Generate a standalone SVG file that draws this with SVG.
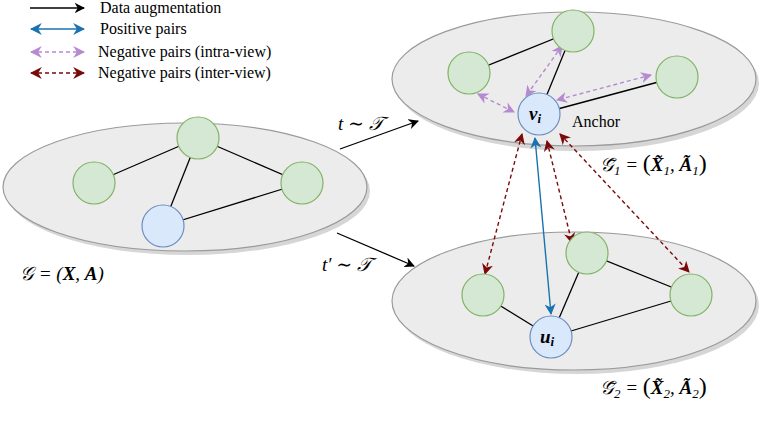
<svg xmlns="http://www.w3.org/2000/svg" width="759" height="422" viewBox="0 0 759 422">
<style>
.ell{fill:#ececec;stroke:#9a9a9a;stroke-width:1.2}
.sh{fill:#d6d6d6}
.g{fill:#d5e8d4;stroke:#82b366;stroke-width:1.2}
.b{fill:#dae8fc;stroke:#6c8ebf;stroke-width:1.2}
.e{stroke:#000;stroke-width:1.3}
text{font-family:'Liberation Serif','DejaVu Serif',serif}
.t{font-size:16px;fill:#000}
.m{font-style:italic;font-size:19px;fill:#000}
.mb{font-style:italic;font-weight:bold;font-size:19px}
</style>
<defs>
<marker id="ak" viewBox="0 0 10 10" refX="9" refY="5" markerWidth="8" markerHeight="8" orient="auto-start-reverse"><path d="M0,0L10,5L0,10L3,5z" fill="#000"/></marker>
<marker id="ab" viewBox="0 0 10 10" refX="9" refY="5" markerWidth="8" markerHeight="8" orient="auto-start-reverse"><path d="M0,0L10,5L0,10L3,5z" fill="#1a73b0"/></marker>
<marker id="ap" viewBox="0 0 10 10" refX="9" refY="5" markerWidth="8" markerHeight="8" orient="auto-start-reverse"><path d="M0,0L10,5L0,10L3,5z" fill="#b58ad0"/></marker>
<marker id="ar" viewBox="0 0 10 10" refX="9" refY="5" markerWidth="8" markerHeight="8" orient="auto-start-reverse"><path d="M0,0L10,5L0,10L3,5z" fill="#7a0a0a"/></marker>
</defs>
<rect width="759" height="422" fill="#fff"/>
<g id="legend">
<line x1="30" y1="8" x2="84" y2="8" class="e" marker-end="url(#ak)"/>
<line x1="31" y1="29" x2="84" y2="29" stroke="#1a73b0" stroke-width="1.5" marker-start="url(#ab)" marker-end="url(#ab)"/>
<line x1="31" y1="52" x2="84" y2="52" stroke="#b58ad0" stroke-width="1.5" stroke-dasharray="4,3" marker-start="url(#ap)" marker-end="url(#ap)"/>
<line x1="31" y1="73" x2="84" y2="73" stroke="#7a0a0a" stroke-width="1.5" stroke-dasharray="4,3" marker-start="url(#ar)" marker-end="url(#ar)"/>
<text class="t" x="100" y="13">Data augmentation</text>
<text class="t" x="100" y="34">Positive pairs</text>
<text class="t" x="98" y="57">Negative pairs (intra-view)</text>
<text class="t" x="98" y="78">Negative pairs (inter-view)</text>
</g>
<g id="graph0">
<ellipse class="sh" cx="188" cy="191" rx="182" ry="64"/>
<ellipse class="ell" cx="185" cy="187" rx="182" ry="64"/>
<text class="m" x="20" y="280">𝒢 = (<tspan class="mb">X</tspan>, <tspan class="mb">A</tspan>)</text>
</g>
<g id="view1">
<ellipse class="sh" cx="577" cy="83" rx="182" ry="68"/>
<ellipse class="ell" cx="574" cy="79" rx="182" ry="67"/>
<text class="m" x="600" y="171">𝒢̃<tspan font-size="13" dy="4">1</tspan><tspan dy="-4"> = </tspan><tspan font-style="normal" font-size="24">(</tspan><tspan class="mb">X̃</tspan><tspan font-size="13" dy="4">1</tspan><tspan dy="-4">, </tspan><tspan class="mb">Ã</tspan><tspan font-size="13" dy="4">1</tspan><tspan dy="-4" font-style="normal" font-size="24">)</tspan></text>
</g>
<g id="view2">
<ellipse class="sh" cx="577" cy="305" rx="182" ry="69"/>
<ellipse class="ell" cx="574" cy="301" rx="182" ry="69"/>
<text class="m" x="600" y="394">𝒢̃<tspan font-size="13" dy="4">2</tspan><tspan dy="-4"> = </tspan><tspan font-style="normal" font-size="24">(</tspan><tspan class="mb">X̃</tspan><tspan font-size="13" dy="4">2</tspan><tspan dy="-4">, </tspan><tspan class="mb">Ã</tspan><tspan font-size="13" dy="4">2</tspan><tspan dy="-4" font-style="normal" font-size="24">)</tspan></text>
</g>
<g id="connectors">
<line class="e" x1="94" y1="183" x2="198" y2="138"/>
<line class="e" x1="198" y1="138" x2="302" y2="183"/>
<line class="e" x1="198" y1="138" x2="163" y2="226"/>
<line class="e" x1="163" y1="226" x2="302" y2="183"/>
<line class="e" x1="469" y1="73" x2="573" y2="31"/>
<line class="e" x1="573" y1="31" x2="539" y2="114"/>
<line class="e" x1="539" y1="114" x2="677" y2="77"/>
<line class="e" x1="483" y1="295" x2="551" y2="337"/>
<line class="e" x1="587" y1="253" x2="551" y2="337"/>
<line class="e" x1="587" y1="253" x2="691" y2="295"/>
<line class="e" x1="551" y1="337" x2="691" y2="295"/>
<line class="e" x1="340" y1="149" x2="418" y2="121" marker-end="url(#ak)"/>
<line class="e" x1="337" y1="233" x2="414" y2="266" marker-end="url(#ak)"/>
<text class="m" x="338" y="130">t ∼ 𝒯</text>
<text class="m" x="322" y="271">t′ ∼ 𝒯</text>
<g stroke="#b58ad0" stroke-width="1.4" stroke-dasharray="4,3" fill="none">
<line x1="478" y1="94" x2="514" y2="112" marker-start="url(#ap)" marker-end="url(#ap)"/>
<line x1="562" y1="46" x2="526" y2="96" marker-start="url(#ap)" marker-end="url(#ap)"/>
<line x1="651" y1="75" x2="557" y2="100" marker-start="url(#ap)" marker-end="url(#ap)"/>
</g>
<line x1="535" y1="138" x2="551" y2="314" stroke="#1a73b0" stroke-width="1.4" marker-start="url(#ab)" marker-end="url(#ab)"/>
<g stroke="#7a0a0a" stroke-width="1.4" stroke-dasharray="4,3" fill="none">
<line x1="522" y1="134" x2="485" y2="274" marker-start="url(#ar)" marker-end="url(#ar)"/>
<line x1="547" y1="141" x2="572" y2="243" marker-start="url(#ar)" marker-end="url(#ar)"/>
<line x1="560" y1="134" x2="689" y2="272" marker-start="url(#ar)" marker-end="url(#ar)"/>
</g>
</g>
<g id="n0a"><circle class="g" cx="94" cy="183" r="21"/></g>
<g id="n0b"><circle class="g" cx="198" cy="138" r="21"/></g>
<g id="n0c"><circle class="g" cx="302" cy="183" r="21"/></g>
<g id="n0d"><circle class="b" cx="163" cy="226" r="21"/></g>
<g id="n1a"><circle class="g" cx="469" cy="73" r="21"/></g>
<g id="n1b"><circle class="g" cx="573" cy="31" r="21"/></g>
<g id="n1c"><circle class="g" cx="677" cy="77" r="21"/></g>
<g id="vi"><circle class="b" cx="539" cy="114" r="21"/><text class="mb" x="529" y="120">v<tspan font-size="13" dy="3">i</tspan></text><text class="t" x="572" y="127">Anchor</text></g>
<g id="n2a"><circle class="g" cx="483" cy="295" r="21"/></g>
<g id="n2b"><circle class="g" cx="587" cy="253" r="21"/></g>
<g id="n2c"><circle class="g" cx="691" cy="295" r="21"/></g>
<g id="ui"><circle class="b" cx="551" cy="337" r="21"/><text class="mb" x="540" y="343">u<tspan font-size="13" dy="3">i</tspan></text></g>
</svg>
